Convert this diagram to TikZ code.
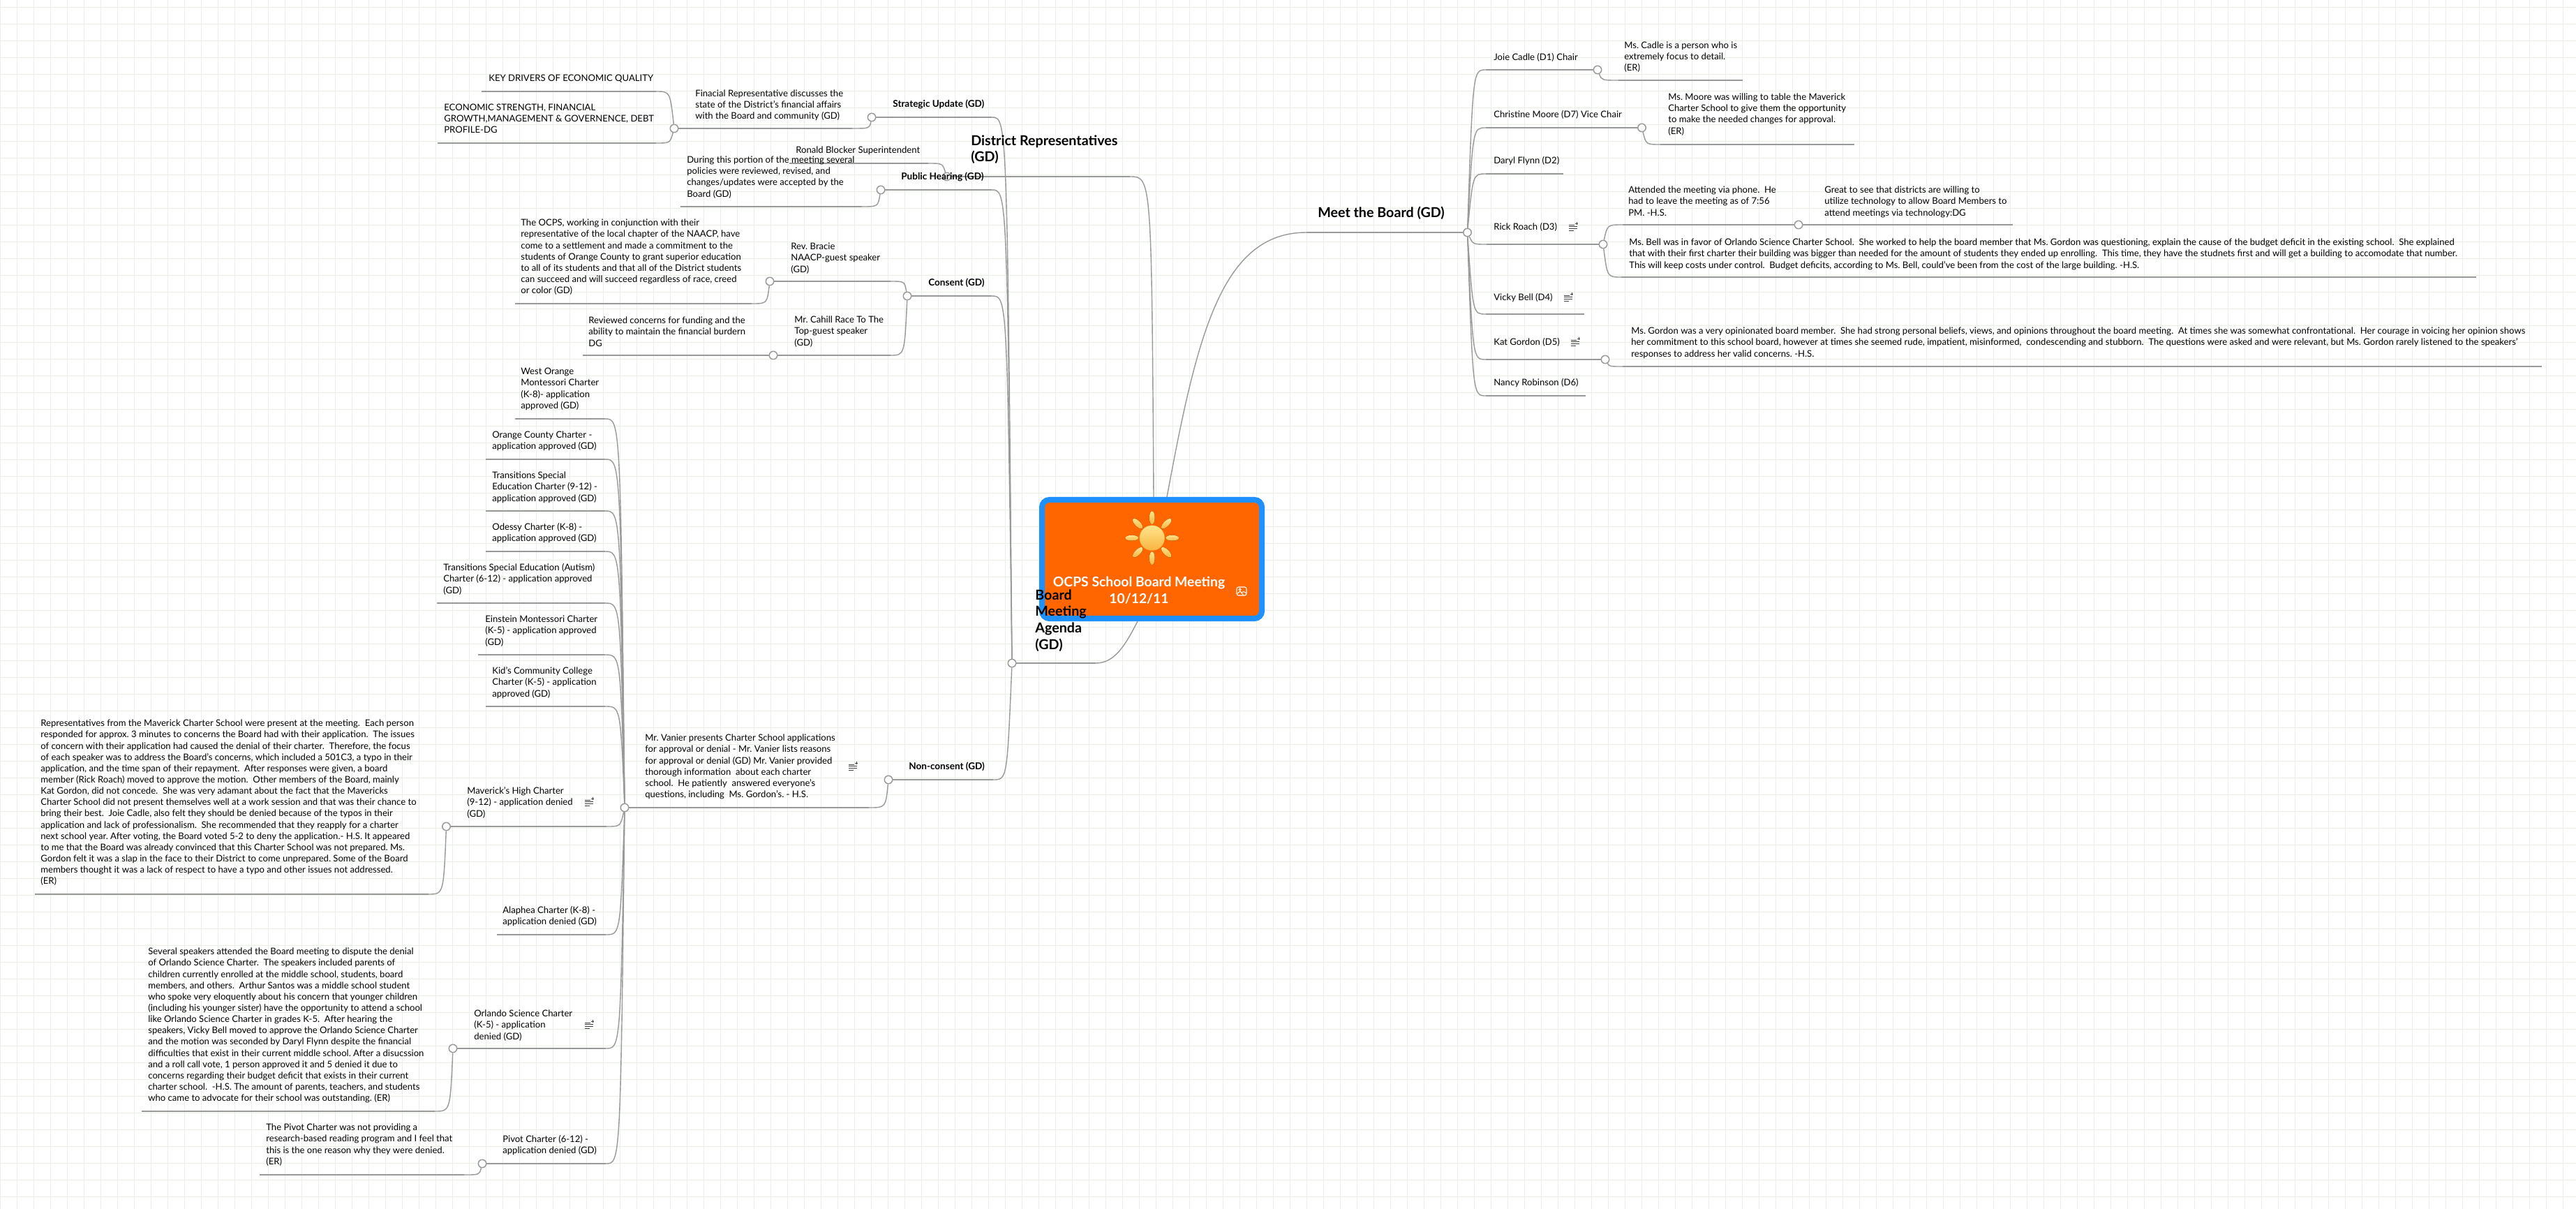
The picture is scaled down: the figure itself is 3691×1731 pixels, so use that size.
\documentclass[tikz,border=0pt]{standalone}
\usepackage{fontspec}
\setmainfont{Lato}
\usetikzlibrary{calc}
\frenchspacing
\definecolor{gridgreen}{HTML}{E9F1E3}
\definecolor{wiregray}{HTML}{999999}
\definecolor{rootblue}{HTML}{1E90FF}
\definecolor{rootorange}{HTML}{FF6600}
\definecolor{sunlight}{HTML}{FFE48C}
\definecolor{sundeep}{HTML}{F8B540}
\tikzset{
  gridline/.style={gridgreen, line width=0.55pt},
  wire/.style={wiregray, line width=0.8pt},
  bar/.style={wiregray, line width=1.15pt},
  dot/.style={circle, draw=wiregray, fill=white, line width=0.85pt, inner sep=0pt, minimum size=6.5pt},
  elbow/.style={to path={.. controls ($(\tikztostart |- \tikztotarget)+(#1,0)$) and ($(\tikztostart |- \tikztotarget)+(#1,0)$) .. (\tikztotarget)}},
  body/.style={anchor=north west, inner sep=0pt, align=left, font=\fontsize{7.45}{9.2}\selectfont},
  head/.style={body, font=\fontsize{7.7}{9.2}\selectfont\bfseries},
  main/.style={body, font=\fontsize{11.2}{13.6}\selectfont\bfseries},
  title/.style={anchor=center, inner sep=0pt, align=center, text=white, font=\fontsize{11}{13.6}\selectfont\bfseries},
  rootbox/.style={draw=rootblue, fill=rootorange, line width=4.55pt, rounded corners=6pt, minimum width=179.3pt, minimum height=96.8pt, inner sep=0pt},
  noteicon/.pic={
    \draw [black!75, line width=0.5pt] (-6.5,3) -- (2,3) (-6.5,0.3) -- (6,0.3) (-6.5,-2.4) -- (6,-2.4) (-6.5,-5.1) -- (1,-5.1);
    \draw [black!75, line width=0.5pt] (5,3) -- (5,7) (3,5) -- (7,5);
  },
  imageicon/.pic={
    \draw [white, line width=0.6pt, rounded corners=1.5pt] (-7,-6) rectangle (7,6);
    \draw [white, line width=0.6pt] (-7,-4) -- (-2,0) -- (3,-6) (0,-2) -- (3,-0.5) -- (7,-3);
    \draw [white, line width=0.6pt] (-2.5,2.5) circle (1.5);
  },
}
\begin{document}
\begin{tikzpicture}[x=0.02cm,y=0.02cm]
\useasboundingbox (0,0) rectangle (3691,-1731);
\fill [white] (0,0) rectangle (3691,-1731);
\draw [gridline, step=24, shift={(0.67,-10)}] (-24,-1752) grid (3720,24);
% root
\node [rootbox] (root) at (1650.5,-801) {};
\coordinate (rootn) at ($(root.north)+(2.5,0)$);
\coordinate (rootm) at ($(root.north)+(21.5,0)$);
\coordinate (roots) at ($(root.south)+(-20.5,0)$);
\coordinate (sun) at (1650.7,-770.7);
\foreach \a in {0,45,...,315}
  \fill [top color=sunlight, bottom color=sundeep, shift={(sun)}, rotate=\a] (29,0) ellipse (9.5 and 4);
\shade [top color=sunlight, bottom color=sundeep] (sun) circle (18);
\pic at (1779,-847) {imageicon};
% junctions
\node [dot] (agendad) at (1450,-950) {};
\node [dot] (meetd) at (2102.5,-333) {};
\node [dot] (distd) at (1356.5,-253) {};
\node [dot] (econd) at (966,-184) {};
\node [dot] (stratd) at (1249,-168) {};
\node [dot] (hearingd) at (1262,-272) {};
\node [dot] (consentd) at (1300,-424) {};
\node [dot] (bracied) at (1103,-403) {};
\node [dot] (cahilld) at (1108,-509) {};
\node [dot] (chartd) at (895,-1157) {};
\node [dot] (noncond) at (1273,-1117) {};
\node [dot] (maverd) at (639.5,-1184) {};
\node [dot] (orlandod) at (649,-1502) {};
\node [dot] (pivotd) at (691,-1667) {};
\node [dot] (joied) at (2289,-100) {};
\node [dot] (moored) at (2352.5,-183) {};
\node [dot] (rickd) at (2297,-350) {};
\node [dot] (attendd) at (2577,-322) {};
\node [dot] (gordond) at (2300,-515) {};
% root to main branches
\coordinate (meeta) at (1872,-333);
\draw [wire] (rootm) .. controls (1715,-480) and (1750,-333) .. (meeta);
\draw [bar] (meeta) -- (meetd);
\coordinate (dista) at (1619,-253);
\draw [wire] (rootn) to[elbow=-3] (dista);
\draw [bar] (dista) -- (distd);
\coordinate (agendaa) at (1570,-950);
\draw [wire] (roots) .. controls (1612,-925) and (1597,-950) .. (agendaa);
\draw [bar] (agendaa) -- (agendad);
% strategic update
\coordinate (strata) at (1421,-168); \coordinate (stratb) at (1221,-184);
\draw [wire] (agendad) to[elbow=-7] (strata);
\draw [bar] (strata) -- (stratd);
\draw [wire] (stratd) to[elbow=-3] (stratb);
\draw [bar] (stratb) -- (econd);
\coordinate (keya) at (940,-131); \coordinate (keyb) at (690,-131);
\coordinate (econa) at (940,-205); \coordinate (econb) at (627,-205);
\draw [wire] (econd) to[elbow=-6] (keya);
\draw [bar] (keya) -- (keyb);
\draw [wire] (econd) to[elbow=-6] (econa);
\draw [bar] (econa) -- (econb);
% district representatives
\coordinate (rona) at (1330,-234); \coordinate (ronb) at (1131,-234);
\draw [wire] (distd) to[elbow=-6] (rona);
\draw [bar] (rona) -- (ronb);
% public hearing
\coordinate (hearinga) at (1421,-272); \coordinate (hearingb) at (1235,-296); \coordinate (hearingc) at (975,-296);
\draw [wire] (agendad) to[elbow=-7] (hearinga);
\draw [bar] (hearinga) -- (hearingd);
\draw [wire] (hearingd) to[elbow=-4] (hearingb);
\draw [bar] (hearingb) -- (hearingc);
% consent
\coordinate (consenta) at (1421,-424);
\draw [wire] (agendad) to[elbow=-7] (consenta);
\draw [bar] (consenta) -- (consentd);
\coordinate (braciea) at (1276,-403); \coordinate (ocpsa) at (1077,-435); \coordinate (ocpsb) at (738,-435);
\draw [wire] (consentd) to[elbow=-4] (braciea);
\draw [bar] (braciea) -- (bracied);
\draw [wire] (bracied) to[elbow=-4] (ocpsa);
\draw [bar] (ocpsa) -- (ocpsb);
\coordinate (cahilla) at (1276,-509); \coordinate (fundb) at (835,-509);
\draw [wire] (consentd) to[elbow=-4] (cahilla);
\draw [bar] (cahilla) -- (cahilld);
\draw [bar] (cahilld) -- (fundb);
% non-consent
\coordinate (nonconb) at (1423,-1117); \coordinate (chartb) at (1245,-1157);
\draw [wire] (agendad) to[elbow=-7] (nonconb);
\draw [bar] (nonconb) -- (noncond);
\draw [wire] (noncond) to[elbow=-4] (chartb);
\draw [bar] (chartb) -- (chartd);
% charters, top to bottom
\coordinate (worange) at (867,-600); \coordinate (worangeb) at (738,-600);
\coordinate (ocounty) at (867,-658); \coordinate (ocountyb) at (696,-658);
\coordinate (transa) at (867,-732); \coordinate (transab) at (696,-732);
\coordinate (odessy) at (867,-790); \coordinate (odessyb) at (696,-790);
\coordinate (transb) at (867,-864); \coordinate (transbb) at (626,-864);
\coordinate (einstein) at (867,-938); \coordinate (einsteinb) at (685,-938);
\coordinate (kids) at (867,-1012); \coordinate (kidsb) at (696,-1012);
\coordinate (alaphea) at (868,-1339); \coordinate (alapheab) at (712,-1339);
\coordinate (mavera) at (869,-1184); \coordinate (orlandoa) at (868,-1502); \coordinate (pivota) at (868,-1667);
\draw [wire] (chartd) to[elbow=-6] (worange);
\draw [bar] (worange) -- (worangeb);
\draw [wire] (chartd) to[elbow=-6] (ocounty);
\draw [bar] (ocounty) -- (ocountyb);
\draw [wire] (chartd) to[elbow=-6] (transa);
\draw [bar] (transa) -- (transab);
\draw [wire] (chartd) to[elbow=-6] (odessy);
\draw [bar] (odessy) -- (odessyb);
\draw [wire] (chartd) to[elbow=-6] (transb);
\draw [bar] (transb) -- (transbb);
\draw [wire] (chartd) to[elbow=-6] (einstein);
\draw [bar] (einstein) -- (einsteinb);
\draw [wire] (chartd) to[elbow=-6] (kids);
\draw [bar] (kids) -- (kidsb);
\draw [wire] (chartd) to[elbow=-6] (mavera);
\draw [bar] (mavera) -- (maverd);
\draw [wire] (chartd) to[elbow=-6] (alaphea);
\draw [bar] (alaphea) -- (alapheab);
\draw [wire] (chartd) to[elbow=-6] (orlandoa);
\draw [bar] (orlandoa) -- (orlandod);
\draw [wire] (chartd) to[elbow=-6] (pivota);
\draw [bar] (pivota) -- (pivotd);
\coordinate (maverb) at (614,-1281); \coordinate (maverc) at (50,-1281);
\draw [wire] (maverd) to[elbow=-4] (maverb);
\draw [bar] (maverb) -- (maverc);
\coordinate (orlandob) at (623,-1592); \coordinate (orlandoc) at (203,-1592);
\draw [wire] (orlandod) to[elbow=-4] (orlandob);
\draw [bar] (orlandob) -- (orlandoc);
\coordinate (pivotb) at (665,-1683); \coordinate (pivotc) at (372,-1683);
\draw [wire] (pivotd) to[elbow=-4] (pivotb);
\draw [bar] (pivotb) -- (pivotc);
% board members
\coordinate (joiea) at (2129,-100); \coordinate (joieb) at (2319,-115); \coordinate (joiec) at (2497,-115);
\draw [wire] (meetd) to[elbow=8] (joiea);
\draw [bar] (joiea) -- (joied);
\draw [wire] (joied) to[elbow=6] (joieb);
\draw [bar] (joieb) -- (joiec);
\coordinate (moorea) at (2129,-183); \coordinate (mooreb) at (2379,-207); \coordinate (moorec) at (2657,-207);
\draw [wire] (meetd) to[elbow=8] (moorea);
\draw [bar] (moorea) -- (moored);
\draw [wire] (moored) to[elbow=6] (mooreb);
\draw [bar] (mooreb) -- (moorec);
\coordinate (daryla) at (2129,-249); \coordinate (darylb) at (2240,-249);
\draw [wire] (meetd) to[elbow=8] (daryla);
\draw [bar] (daryla) -- (darylb);
\coordinate (ricka) at (2130,-350);
\draw [wire] (meetd) to[elbow=8] (ricka);
\draw [bar] (ricka) -- (rickd);
\coordinate (attenda) at (2325,-322); \coordinate (greatb) at (2884,-322);
\draw [wire] (rickd) to[elbow=6] (attenda);
\draw [bar] (attenda) -- (attendd);
\draw [bar] (attendd) -- (greatb);
\coordinate (bella) at (2323,-397); \coordinate (bellb) at (3548,-397);
\draw [wire] (rickd) to[elbow=6] (bella);
\draw [bar] (bella) -- (bellb);
\coordinate (vickya) at (2129,-450); \coordinate (vickyb) at (2270,-450);
\draw [wire] (meetd) to[elbow=8] (vickya);
\draw [bar] (vickya) -- (vickyb);
\coordinate (gordona) at (2129,-515); \coordinate (gordonb) at (2325,-525); \coordinate (gordonc) at (3642,-525);
\draw [wire] (meetd) to[elbow=8] (gordona);
\draw [bar] (gordona) -- (gordond);
\draw [wire] (gordond) to[elbow=6] (gordonb);
\draw [bar] (gordonb) -- (gordonc);
\coordinate (nancya) at (2129,-567); \coordinate (nancyb) at (2272,-567);
\draw [wire] (meetd) to[elbow=8] (nancya);
\draw [bar] (nancya) -- (nancyb);
% note icons
\pic at (2254,-325) {noteicon};
\pic at (2247,-426) {noteicon};
\pic at (2257,-490) {noteicon};
\pic at (1222,-1098) {noteicon};
\pic at (844,-1149) {noteicon};
\pic at (844,-1468) {noteicon};
% left texts
\node [body] (keyt) at (700,-105) {\strut KEY DRIVERS OF ECONOMIC QUALITY};
\node [body] (econt) at (636,-147) {\strut ECONOMIC STRENGTH, FINANCIAL\\GROWTH,MANAGEMENT \& GOVERNENCE, DEBT\\PROFILE-DG};
\node [body] (fint) at (996,-127) {\strut Finacial Representative discusses the\\state of the District's financial affairs\\with the Board and community (GD)};
\node [head] (stratt) at (1279,-142) {\strut Strategic Update (GD)};
\node [main] (distt) at (1391,-191) {\strut District Representatives\\(GD)};
\node [body] (ront) at (1140,-208) {\strut Ronald Blocker Superintendent};
\node [body] (hearingt) at (984,-222) {\strut During this portion of the meeting several\\policies were reviewed, revised, and\\changes/updates were accepted by the\\Board (GD)};
\node [head] (publict) at (1291,-246) {\strut Public Hearing (GD)};
\node [body] (ocpst) at (746,-312) {\strut The OCPS, working in conjunction with their\\representative of the local chapter of the NAACP, have\\come to a settlement and made a commitment to the\\students of Orange County to grant superior education\\to all of its students and that all of the District students\\can succeed and will succeed regardless of race, creed\\or color (GD)};
\node [body] (braciet) at (1133,-346) {\strut Rev. Bracie\\NAACP-guest speaker\\(GD)};
\node [head] (consentt) at (1330,-398) {\strut Consent (GD)};
\node [body] (fundt) at (843,-452) {\strut Reviewed concerns for funding and the\\ability to maintain the financial burdern\\DG};
\node [body] (cahillt) at (1138,-451) {\strut Mr. Cahill Race To The\\Top-guest speaker\\(GD)};
\node [body] (worranget) at (746,-525) {\strut West Orange\\Montessori Charter\\(K-8)- application\\approved (GD)};
\node [body] (ocountyt) at (705,-616) {\strut Orange County Charter -\\application approved (GD)};
\node [body] (transat) at (705,-674) {\strut Transitions Special\\Education Charter (9-12) -\\application approved (GD)};
\node [body] (odessyt) at (705,-748) {\strut Odessy Charter (K-8) -\\application approved (GD)};
\node [body] (transbt) at (635,-806) {\strut Transitions Special Education (Autism)\\Charter (6-12) - application approved\\(GD)};
\node [body] (einsteint) at (695,-880) {\strut Einstein Montessori Charter\\(K-5) - application approved\\(GD)};
\node [body] (kidst) at (705,-954) {\strut Kid's Community College\\Charter (K-5) - application\\approved (GD)};
\node [body] (vaniert) at (924,-1050) {\strut Mr. Vanier presents Charter School applications\\for approval or denial - Mr. Vanier lists reasons\\for approval or denial (GD) Mr. Vanier provided\\thorough information~ about each charter\\school.~ He patiently~ answered everyone's\\questions, including~ Ms. Gordon's. - H.S.};
\node [head] (noncont) at (1302,-1091) {\strut Non-consent (GD)};
\node [body] (mavert) at (669,-1126) {\strut Maverick's High Charter\\(9-12) - application denied\\(GD)};
\node [body] (repst) at (58,-1029) {\strut Representatives from the Maverick Charter School were present at the meeting.~ Each person\\responded for approx. 3 minutes to concerns the Board had with their application.~ The issues\\of concern with their application had caused the denial of their charter.~ Therefore, the focus\\of each speaker was to address the Board's concerns, which included a 501C3, a typo in their\\application, and the time span of their repayment.~ After responses were given, a board\\member (Rick Roach) moved to approve the motion.~ Other members of the Board, mainly\\Kat Gordon, did not concede.~ She was very adamant about the fact that the Mavericks\\Charter School did not present themselves well at a work session and that was their chance to\\bring their best.~ Joie Cadle, also felt they should be denied because of the typos in their\\application and lack of professionalism.~ She recommended that they reapply for a charter\\next school year. After voting, the Board voted 5-2 to deny the application.- H.S. It appeared\\to me that the Board was already convinced that this Charter School was not prepared. Ms.\\Gordon felt it was a slap in the face to their District to come unprepared. Some of the Board\\members thought it was a lack of respect to have a typo and other issues not addressed.\\(ER)};
\node [body] (alapheat) at (720,-1297) {\strut Alaphea Charter (K-8) -\\application denied (GD)};
\node [body] (orlandot) at (679,-1445) {\strut Orlando Science Charter\\(K-5) - application\\denied (GD)};
\node [body] (severalt) at (212,-1356) {\strut Several speakers attended the Board meeting to dispute the denial\\of Orlando Science Charter.~ The speakers included parents of\\children currently enrolled at the middle school, students, board\\members, and others.~ Arthur Santos was a middle school student\\who spoke very eloquently about his concern that younger children\\(including his younger sister) have the opportunity to attend a school\\like Orlando Science Charter in grades K-5.~ After hearing the\\speakers, Vicky Bell moved to approve the Orlando Science Charter\\and the motion was seconded by Daryl Flynn despite the financial\\difficulties that exist in their current middle school. After a disucssion\\and a roll call vote, 1 person approved it and 5 denied it due to\\concerns regarding their budget deficit that exists in their current\\charter school.~ -H.S. The amount of parents, teachers, and students\\who came to advocate for their school was outstanding. (ER)};
\node [body] (pivott) at (720,-1625) {\strut Pivot Charter (6-12) -\\application denied (GD)};
\node [body] (pivotnt) at (381,-1608) {\strut The Pivot Charter was not providing a\\research-based reading program and I feel that\\this is the one reason why they were denied.\\(ER)};
% right texts
\node [main] (meett) at (1888,-294) {\strut Meet the Board (GD)};
\node [body] (joiet) at (2140,-75) {\strut Joie Cadle (D1) Chair};
\node [body] (cadlet) at (2327,-58) {\strut Ms. Cadle is a person who is\\extremely focus to detail.\\(ER)};
\node [body] (mooret) at (2140,-157) {\strut Christine Moore (D7) Vice Chair};
\node [body] (moorent) at (2390,-132) {\strut Ms. Moore was willing to table the Maverick\\Charter School to give them the opportunity\\to make the needed changes for approval.\\(ER)};
\node [body] (darylt) at (2140,-223) {\strut Daryl Flynn (D2)};
\node [body] (rickt) at (2140,-318) {\strut Rick Roach (D3)};
\node [body] (attendt) at (2333,-265) {\strut Attended the meeting via phone.~ He\\had to leave the meeting as of 7:56\\PM. -H.S.};
\node [body] (greatt) at (2614,-265) {\strut Great to see that districts are willing to\\utilize technology to allow Board Members to\\attend meetings via technology:DG};
\node [body] (bellt) at (2334,-340) {\strut Ms. Bell was in favor of Orlando Science Charter School.~ She worked to help the board member that Ms. Gordon was questioning, explain the cause of the budget deficit in the existing school.~ She explained\\that with their first charter their building was bigger than needed for the amount of students they ended up enrolling.~ This time, they have the studnets first and will get a building to accomodate that number.\\This will keep costs under control.~ Budget deficits, according to Ms. Bell, could've been from the cost of the large building. -H.S.};
\node [body] (vickyt) at (2140,-419) {\strut Vicky Bell (D4)};
\node [body] (katt) at (2140,-483) {\strut Kat Gordon (D5)};
\node [body] (gordont) at (2337,-467) {\strut Ms. Gordon was a very opinionated board member.~ She had strong personal beliefs, views, and opinions throughout the board meeting.~ At times she was somewhat confrontational.~ Her courage in voicing her opinion shows\\her commitment to this school board, however at times she seemed rude, impatient, misinformed,~ condescending and stubborn.~ The questions were asked and were relevant, but Ms. Gordon rarely listened to the speakers'\\responses to address her valid concerns. -H.S.};
\node [body] (nancyt) at (2140,-541) {\strut Nancy Robinson (D6)};
% root texts
\node [title] (roott) at (1632,-846) {OCPS School Board Meeting\\10/12/11};
\node [main] (agendat) at (1483,-842) {\strut Board\\Meeting\\Agenda\\(GD)};
\end{tikzpicture}
\end{document}
